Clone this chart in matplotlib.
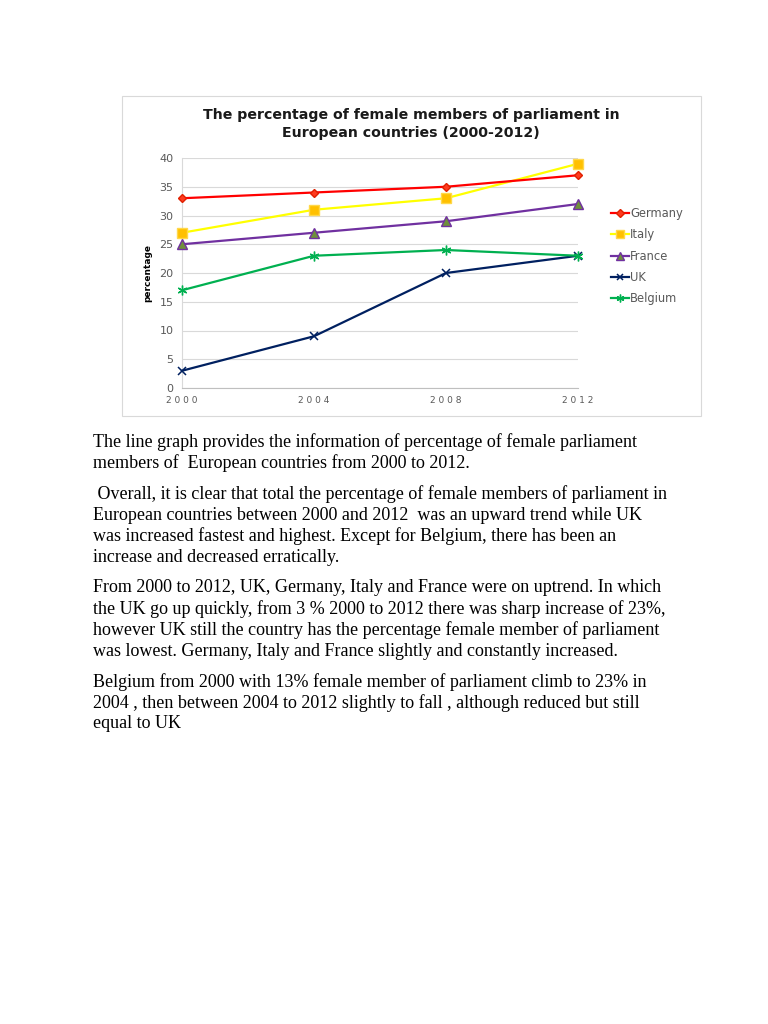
import matplotlib.pyplot as plt
from matplotlib.patches import Rectangle

# --- data ---
years = [2000, 2004, 2008, 2012]
germany = [33, 34, 35, 37]
italy = [27, 31, 33, 39]
france = [25, 27, 29, 32]
uk = [3, 9, 20, 23]
belgium = [17, 23, 24, 23]
y_ticks = [0, 5, 10, 15, 20, 25, 30, 35, 40]

title = "The percentage of female members of parliament in\nEuropean countries (2000-2012)"

paragraphs = [
    ["The line graph provides the information of percentage of female parliament",
     "members of  European countries from 2000 to 2012."],
    [" Overall, it is clear that total the percentage of female members of parliament in",
     "European countries between 2000 and 2012  was an upward trend while UK",
     "was increased fastest and highest. Except for Belgium, there has been an",
     "increase and decreased erratically."],
    ["From 2000 to 2012, UK, Germany, Italy and France were on uptrend. In which",
     "the UK go up quickly, from 3 % 2000 to 2012 there was sharp increase of 23%,",
     "however UK still the country has the percentage female member of parliament",
     "was lowest. Germany, Italy and France slightly and constantly increased."],
    ["Belgium from 2000 with 13% female member of parliament climb to 23% in",
     "2004 , then between 2004 to 2012 slightly to fall , although reduced but still",
     "equal to UK"],
]
para_tops = [442, 494, 588, 682]  # pixel y of first line centre in each paragraph

W, H = 768, 1024
fig = plt.figure(figsize=(W / 100, H / 100), dpi=100)

# chart frame
fig.patches.append(Rectangle((122 / W, 1 - 416 / H), (701 - 122) / W, (416 - 96) / H,
                             transform=fig.transFigure, fill=False,
                             edgecolor='#d9d9d9', lw=0.8))

ax = fig.add_axes([182 / W, 1 - 388 / H, (578 - 182) / W, (388 - 158) / H])

ax.plot(years, germany, color='#ff0000', lw=1.6, marker='D', markersize=4.5,
        markerfacecolor='#ff3b1f', markeredgecolor='#e02000', label='Germany',
        zorder=5, clip_on=False)
ax.plot(years, italy, color='#ffff00', lw=1.6, marker='s', markersize=6.5,
        markerfacecolor='#ffc000', markeredgecolor='#ffd84a', label='Italy',
        zorder=4, clip_on=False)
ax.plot(years, france, color='#7030a0', lw=1.6, marker='^', markersize=6.5,
        markerfacecolor='#6f8f3c', markeredgecolor='#7030a0', label='France',
        zorder=4, clip_on=False)
ax.plot(years, uk, color='#002060', lw=1.6, marker='x', markersize=6,
        markeredgewidth=1.1, label='UK', zorder=4, clip_on=False)
ax.plot(years, belgium, color='#00b050', lw=1.6, marker=(6, 2, 0), markersize=7,
        markeredgewidth=1.0, label='Belgium', zorder=4, clip_on=False)

ax.set_xlim(2000, 2012)
ax.set_ylim(0, 40)
ax.set_xticks(years)
ax.set_yticks(y_ticks)
ax.set_xticklabels([' '.join(str(y)) for y in years], fontsize=6.5, color='#595959')
ax.set_yticklabels([str(v) for v in y_ticks], fontsize=8, color='#595959')
ax.tick_params(length=0, pad=6)
ax.tick_params(axis='x', pad=6)
ax.grid(axis='y', color='#d9d9d9', lw=0.8)
ax.set_axisbelow(True)
for s in ['top', 'right']:
    ax.spines[s].set_visible(False)
ax.spines['left'].set_color('#d9d9d9')
ax.spines['bottom'].set_color('#bfbfbf')
ax.set_ylabel('percentage', fontsize=6.5, fontweight='bold')
ax.yaxis.set_label_coords(-0.075, 0.5)

fig.text(411 / W, 1 - 124 / H, title, ha='center', va='center', fontsize=10.2,
         fontweight='bold', linespacing=1.4, color='#1a1a1a')

ax.legend(loc='upper left', bbox_to_anchor=(605 / W, 1 - 201 / H),
          bbox_transform=fig.transFigure, frameon=False, fontsize=8.3,
          handlelength=1.55, handletextpad=0.15, labelspacing=0.73,
          borderpad=0, labelcolor='#595959', markerscale=0.8)

# text below the chart
for top, lines in zip(para_tops, paragraphs):
    for i, line in enumerate(lines):
        fig.text(93 / W, 1 - (top + i * 21) / H, line, ha='left', va='center',
                 fontsize=13, family='Liberation Serif', color='black')

fig.savefig('out.png', dpi=100)
